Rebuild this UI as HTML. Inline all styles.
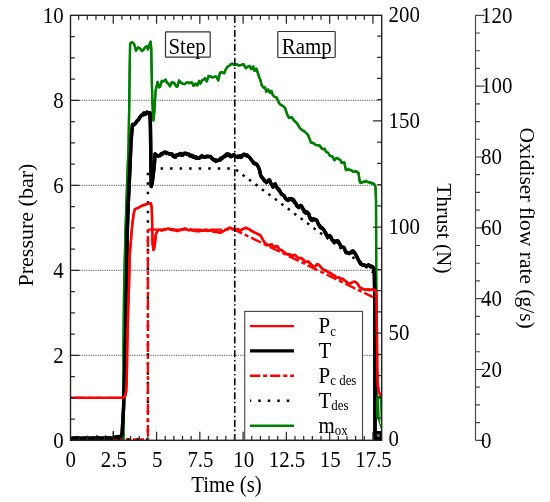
<!DOCTYPE html>
<html><head><meta charset="utf-8"><title>Pressure, thrust and oxidiser flow rate vs time</title>
<style>html,body{margin:0;padding:0;background:#fff;width:550px;height:502px;overflow:hidden}svg{display:block}</style>
</head><body>
<svg width="550" height="502" viewBox="0 0 550 502">
<rect width="550" height="502" fill="#fff"/>
<defs><clipPath id="ax"><rect x="70.0" y="15.3" width="311.6" height="425.0"/></clipPath></defs>
<line x1="70.0" y1="355.30" x2="381.6" y2="355.30" stroke="#555" stroke-width="1" stroke-dasharray="1.2 1.1"/>
<line x1="70.0" y1="270.30" x2="381.6" y2="270.30" stroke="#555" stroke-width="1" stroke-dasharray="1.2 1.1"/>
<line x1="70.0" y1="185.30" x2="381.6" y2="185.30" stroke="#555" stroke-width="1" stroke-dasharray="1.2 1.1"/>
<line x1="70.0" y1="100.30" x2="381.6" y2="100.30" stroke="#555" stroke-width="1" stroke-dasharray="1.2 1.1"/>
<g clip-path="url(#ax)" fill="none" stroke-linejoin="round">
<polyline points="70.0,439.5 71.1,439.5 72.2,439.5 73.3,439.5 74.4,439.5 75.6,439.5 76.7,439.5 77.8,439.5 78.9,439.5 80.0,439.5 81.1,439.5 82.2,439.5 83.3,439.5 84.4,439.5 85.5,439.5 86.7,439.5 87.8,439.5 88.9,439.5 90.0,439.5 91.1,439.5 92.2,439.5 93.3,439.5 94.4,439.5 95.5,439.5 96.7,439.5 97.8,439.5 98.9,439.5 100.0,439.5 101.1,439.5 102.2,439.5 103.3,439.5 104.4,439.5 105.5,439.5 106.6,439.5 107.8,439.5 108.9,439.5 110.0,439.5 111.1,439.5 112.2,439.5 113.3,439.5 114.4,439.5 115.5,439.5 116.6,439.5 117.7,439.5 118.9,439.5 120.0,439.5 121.1,439.5 122.2,439.5 123.3,439.5 123.5,439.0 123.5,347.0 124.1,287.0 125.5,230.0 127.5,172.0 128.6,145.0 129.2,105.0 129.6,75.0 130.1,44.0 131.0,42.5 132.0,42.2 134.0,43.9 135.0,47.0 136.0,50.6 138.0,47.5 140.0,48.4 142.0,51.0 143.0,50.2 145.0,47.5 147.0,46.1 148.0,49.3 149.0,46.6 150.5,41.6 151.2,48.0 151.7,75.0 152.3,100.0 153.3,120.5 154.3,112.0 155.0,100.0 155.7,90.0 156.4,87.3 157.7,81.8 159.1,87.3 160.0,86.8 161.8,80.9 163.6,81.4 165.5,79.5 166.8,82.3 167.9,83.3 169.1,84.5 170.0,86.4 171.8,82.3 172.9,83.0 174.1,82.7 175.2,84.8 176.4,86.4 177.3,86.8 179.1,80.5 180.9,82.7 182.7,83.6 184.5,84.1 186.4,82.7 187.8,82.7 189.1,83.2 190.4,82.9 191.8,82.3 193.6,85.9 195.5,83.6 197.3,85.5 199.1,80.9 200.5,83.6 202.3,80.0 203.7,79.6 205.0,78.2 206.8,81.4 208.6,75.9 209.8,76.6 210.9,76.4 212.1,76.9 213.2,77.3 214.6,77.0 215.9,76.4 217.1,77.8 218.2,80.5 220.0,72.7 221.2,72.1 222.3,72.3 224.1,73.2 225.9,69.1 227.7,66.4 228.8,66.1 230.0,65.0 231.2,64.2 232.3,63.6 234.1,65.0 235.9,64.5 237.2,64.5 238.6,65.5 240.0,65.3 241.4,65.0 243.6,64.1 244.8,66.4 245.9,68.2 247.7,66.8 249.5,65.9 251.4,69.1 253.2,66.4 254.5,70.9 256.4,68.6 257.7,72.7 259.1,76.8 260.5,80.5 261.8,85.5 263.6,87.7 265.0,87.3 266.4,91.8 268.2,89.5 270.0,92.7 271.4,90.9 272.7,95.0 274.5,96.8 276.4,97.3 277.7,100.0 279.0,103.1 280.5,104.5 282.0,105.5 283.5,106.5 285.0,107.9 287.0,113.9 289.0,118.0 290.5,117.7 292.0,117.5 294.0,120.5 295.5,122.0 297.0,123.5 298.5,126.2 300.0,128.2 301.5,129.4 303.0,130.6 304.5,131.7 306.0,133.0 308.0,134.8 309.5,138.7 311.0,142.6 312.3,142.5 313.7,143.2 315.0,144.4 316.5,145.2 318.0,145.4 319.6,145.4 321.0,148.0 322.4,149.2 323.5,149.1 324.6,148.7 326.2,152.0 327.9,152.5 330.0,155.8 332.2,156.4 334.4,160.2 335.5,159.0 336.6,158.0 338.0,158.3 339.4,159.6 340.5,160.2 341.5,162.9 342.9,162.7 344.3,162.4 345.9,170.0 347.0,170.2 348.1,169.0 349.5,169.9 350.9,170.0 353.0,171.7 354.4,171.5 355.8,171.1 357.1,172.5 358.5,172.8 359.6,181.0 360.2,182.6 361.5,182.0 362.9,182.1 364.0,181.8 365.1,182.0 366.2,181.0 367.3,181.6 368.4,182.0 369.5,182.6 370.6,182.5 371.7,183.1 372.8,183.2 374.4,184.3 375.5,187.6 376.0,200.0 376.3,300.0 376.6,397.0" stroke="#008000" stroke-width="2.3"/>
<polyline points="70.0,439.5 71.1,439.5 72.2,439.5 73.3,439.5 74.4,439.5 75.6,439.5 76.7,439.5 77.8,439.5 78.9,439.5 80.0,439.5 81.1,439.5 82.2,439.5 83.3,439.5 84.4,439.5 85.5,439.5 86.7,439.5 87.8,439.5 88.9,439.5 90.0,439.5 91.1,439.5 92.2,439.5 93.3,439.5 94.4,439.5 95.5,439.5 96.7,439.5 97.8,439.5 98.9,439.5 100.0,439.5 101.1,439.5 102.2,439.5 103.3,439.5 104.4,439.5 105.5,439.5 106.6,439.5 107.8,439.5 108.9,439.5 110.0,439.5 111.1,439.5 112.2,439.5 113.3,439.5 114.4,439.5 115.5,439.5 116.6,439.5 117.7,439.5 118.9,439.5 120.0,439.5 121.1,439.5 122.2,439.5 123.3,439.5 123.5,439.0 123.5,347.0 124.1,287.0 125.5,230.0 127.5,172.0 128.6,145.0 129.2,105.0 129.6,75.0 130.1,44.0 131.0,42.5 132.0,42.2 134.0,43.9 135.0,47.0 136.0,50.6 138.0,47.5 140.0,48.4 142.0,51.0 143.0,50.2 145.0,47.5 147.0,46.1 148.0,49.3 149.0,46.6 150.5,41.6 151.2,48.0 151.7,75.0 152.3,100.0 153.3,120.5 154.3,112.0 155.0,100.0 155.7,90.0 156.4,87.3 157.7,81.8 159.1,87.3 160.0,86.8 161.8,80.9 163.6,81.4 165.5,79.5 166.8,82.3 167.9,83.2 169.1,84.5 170.0,86.4 171.8,82.3 172.9,83.1 174.1,82.7 175.2,85.0 176.4,86.4 177.3,86.8 179.1,80.5 180.9,82.7 182.7,83.6 184.5,84.1 186.4,82.7 187.8,82.3 189.1,83.2 190.4,82.3 191.8,82.3 193.6,85.9 195.5,83.6 197.3,85.5 199.1,80.9 200.5,83.6 202.3,80.0 203.7,79.7 205.0,78.2 206.8,81.4 208.6,75.9 209.8,76.1 210.9,76.4 212.1,77.5 213.2,77.3 214.6,76.7 215.9,76.4 217.1,77.9 218.2,80.5 220.0,72.7 221.2,72.7 222.3,72.3 224.1,73.2 225.9,69.1 227.7,66.4 228.8,66.1 230.0,65.0 231.2,64.0 232.3,63.6 234.1,65.0 235.9,64.5 237.2,64.4 238.6,65.5 240.0,65.0 241.4,65.0 243.6,64.1 244.8,66.8 245.9,68.2 247.7,66.8 249.5,65.9 251.4,69.1 253.2,66.4 254.5,70.9 256.4,68.6 257.7,72.7 259.1,76.8 260.5,80.5 261.8,85.5 263.6,87.7 265.0,87.3 266.4,91.8 268.2,89.5 270.0,92.7 271.4,90.9 272.7,95.0 274.5,96.8 276.4,97.3 277.7,100.0 279.0,103.1 280.5,104.7 282.0,105.5 283.5,106.2 285.0,107.9 287.0,113.9 289.0,118.0 290.5,117.4 292.0,117.5 294.0,120.5 295.5,121.4 297.0,123.5 298.5,125.2 300.0,128.2 301.5,129.8 303.0,130.6 304.5,131.3 306.0,133.0 308.0,134.8 309.5,138.8 311.0,142.6 312.3,143.1 313.7,143.4 315.0,144.4 316.5,145.2 318.0,145.4 319.6,145.4 321.0,146.8 322.4,149.2 323.5,149.2 324.6,148.7 326.2,152.0 327.9,152.5 330.0,155.8 332.2,156.4 334.4,160.2 335.5,158.6 336.6,158.0 338.0,158.7 339.4,159.6 340.5,160.2 341.5,162.9 342.9,162.2 344.3,162.4 345.9,170.0 347.0,169.2 348.1,169.0 349.5,170.2 350.9,170.0 353.0,171.7 354.4,171.8 355.8,171.1 357.1,171.7 358.5,172.8 359.6,181.0 360.2,182.6 361.5,182.9 362.9,182.1 364.0,181.3 365.1,181.2 366.2,181.0 367.3,182.0 368.4,182.3 369.5,182.6 370.6,182.2 371.7,183.7 372.8,183.2 374.4,184.3 375.5,187.6 376.0,200.0 376.3,300.0 376.6,397.0" stroke="#008000" stroke-width="2.3"/>
<line x1="147.90" y1="440" x2="147.90" y2="168.6" stroke="#000" stroke-width="2.5" fill="none" stroke-dasharray="2.5 7" stroke-dashoffset="1.25"/>
<line x1="147.90" y1="168.6" x2="234.46" y2="168.6" stroke="#000" stroke-width="2.5" fill="none" stroke-dasharray="2.5 7.03" stroke-dashoffset="6.41"/>
<line x1="234.46" y1="168.6" x2="372.94" y2="272.33" stroke="#000" stroke-width="2.5" fill="none" stroke-dasharray="2.5 5.57" stroke-dashoffset="6.00"/>
<line x1="70" y1="439.4" x2="147.90" y2="439.4" stroke="#f00" stroke-width="2.4" fill="none" stroke-dasharray="11 3 4 3"/>
<line x1="70" y1="439.4" x2="147.90" y2="439.4" stroke="#000" stroke-width="2.5" fill="none" stroke-dasharray="2.5 7"/>
<polyline points="70.0,438.3 71.0,438.6 72.0,438.6 73.0,437.9 74.0,438.0 75.0,438.5 76.0,438.4 77.0,438.2 77.8,437.6 78.6,438.2 79.5,438.3 80.5,438.1 81.4,438.3 82.3,438.3 83.3,438.3 84.2,438.0 85.1,438.2 86.1,438.1 87.0,438.2 88.2,438.2 89.1,438.4 90.0,438.5 91.0,438.5 91.9,438.2 92.8,438.2 93.7,438.0 94.7,437.9 95.6,437.9 96.5,438.2 97.0,437.3 97.5,438.2 98.4,438.2 99.4,438.1 100.3,438.1 101.2,438.5 102.2,438.2 103.1,438.2 104.1,438.0 105.0,438.2 105.6,437.4 106.2,438.2 107.2,437.9 108.1,438.1 109.1,437.9 110.1,438.2 111.1,438.5 112.0,438.3 113.0,438.2 113.6,437.8 114.8,437.2 116.0,437.0 117.1,437.2 118.2,437.0 119.2,436.9 120.3,436.6 121.6,436.2 122.2,432.0 123.6,407.0 124.5,377.0 125.4,347.0 126.5,287.0 127.1,237.0 128.2,205.0 129.8,172.0 131.0,142.0 131.8,132.0 132.5,124.5 133.8,125.0 135.0,123.7 136.0,123.0 137.0,121.0 138.0,120.7 139.0,119.0 140.0,117.0 141.0,115.7 142.0,115.0 143.0,115.1 144.0,113.0 145.0,114.5 146.0,113.8 147.0,112.4 148.0,112.6 149.0,113.8 150.0,112.8 150.4,125.0 151.2,186.6 152.3,182.0 153.8,170.0 154.5,162.9 155.0,153.9 156.5,155.1 157.8,156.0 159.0,155.7 160.0,155.3 161.0,154.0 162.0,153.4 163.0,153.1 164.0,152.6 165.0,152.2 166.2,153.6 167.4,153.2 168.6,153.4 169.7,154.3 170.9,153.8 171.8,154.1 172.7,156.0 173.6,156.7 174.5,156.4 175.4,157.2 176.4,155.1 177.6,154.8 178.7,155.2 179.9,153.8 180.9,155.0 181.9,155.2 182.9,154.5 183.9,153.3 184.9,153.4 185.9,153.3 186.8,154.5 187.8,154.3 188.8,153.9 189.8,156.0 190.8,155.0 191.8,155.9 192.9,157.3 193.9,156.4 195.0,157.2 196.0,158.5 197.0,157.7 198.2,158.3 199.5,158.1 201.0,156.4 202.0,156.7 203.0,156.9 204.0,157.1 205.0,157.2 206.0,157.1 207.0,156.3 208.2,156.5 209.4,156.4 210.7,157.1 212.0,158.7 212.9,158.8 213.9,160.2 214.9,160.4 215.9,161.5 216.9,160.7 218.2,160.6 219.4,159.9 220.7,158.0 221.9,158.2 222.9,158.0 223.9,156.3 224.9,156.1 225.9,154.8 226.9,155.5 227.9,154.4 228.9,154.0 229.9,154.9 230.9,156.6 231.9,156.6 232.8,155.4 233.8,154.6 234.8,155.9 235.8,156.6 236.8,156.7 237.8,156.0 238.8,156.4 239.8,156.3 240.8,157.4 241.8,157.1 242.8,155.0 244.1,154.3 245.8,155.4 246.9,154.8 248.0,155.9 249.7,157.6 251.0,159.5 252.3,161.2 253.6,163.3 254.9,163.8 256.0,164.1 257.0,164.9 258.1,166.4 259.4,169.6 260.7,175.4 261.7,177.6 262.7,178.0 264.0,179.5 265.3,181.3 266.2,182.1 267.2,181.9 268.4,179.9 269.5,180.0 271.1,183.9 272.1,185.2 273.0,187.1 274.1,184.7 275.2,183.9 276.4,186.5 277.6,188.4 278.9,189.0 280.2,191.6 281.4,194.3 282.7,194.9 284.0,195.4 285.3,198.1 286.6,199.8 288.0,200.5 289.0,198.6 290.0,199.0 291.0,198.6 292.0,200.1 293.0,199.5 294.2,200.5 295.5,203.0 296.5,204.0 297.5,206.5 299.0,207.5 300.0,206.9 301.0,205.5 302.0,207.0 303.0,209.0 304.0,209.6 305.0,212.4 305.9,213.3 306.9,211.9 308.4,213.4 309.9,217.9 311.1,218.3 312.4,220.4 313.6,218.8 314.9,219.4 315.9,219.5 316.9,220.4 317.9,222.9 318.9,224.9 319.9,227.0 320.9,227.9 321.9,227.5 322.9,228.9 323.9,230.0 324.9,231.9 325.9,232.8 326.8,235.8 327.8,235.7 328.8,235.8 329.8,236.9 330.8,236.8 332.0,239.8 332.9,240.8 333.8,240.7 334.7,242.1 335.6,241.6 336.8,241.9 338.0,241.0 338.9,243.3 339.8,244.0 340.7,245.9 341.6,246.9 342.8,247.1 344.0,247.5 344.9,249.9 346.0,252.6 347.1,252.1 348.1,252.9 349.3,253.1 350.5,252.6 351.6,251.4 352.6,251.1 353.6,251.1 354.7,252.9 355.6,254.3 356.5,255.9 357.4,258.6 358.3,259.5 359.5,261.9 360.4,262.3 361.4,264.4 362.6,264.8 363.9,264.9 365.1,265.2 366.4,265.9 367.4,265.8 368.4,264.7 369.4,265.4 370.6,266.9 371.8,266.3 373.3,267.8 374.3,272.0 374.8,300.0 375.0,438.0" stroke="#000" stroke-width="3.4"/>
<polyline points="70.0,438.3 71.0,438.3 72.0,438.4 73.0,438.4 74.0,438.0 75.0,437.9 76.0,438.1 77.0,438.2 77.8,437.6 78.6,438.2 79.5,438.0 80.5,438.4 81.4,438.3 82.3,438.3 83.3,438.2 84.2,438.3 85.1,438.0 86.1,438.2 87.0,438.2 88.2,438.2 89.1,438.0 90.0,438.5 91.0,437.9 91.9,438.4 92.8,437.9 93.7,438.3 94.7,438.1 95.6,438.1 96.5,438.2 97.0,437.3 97.5,438.2 98.4,438.4 99.4,437.9 100.3,437.9 101.2,438.5 102.2,438.2 103.1,437.9 104.1,438.5 105.0,438.2 105.6,437.4 106.2,438.2 107.2,438.5 108.1,437.9 109.1,438.1 110.1,437.9 111.1,438.1 112.0,438.3 113.0,438.2 113.6,437.8 114.8,437.2 116.0,437.0 117.1,437.0 118.2,436.5 119.2,436.5 120.3,436.6 121.6,436.2 122.2,432.0 123.6,407.0 124.5,377.0 125.4,347.0 126.5,287.0 127.1,237.0 128.2,205.0 129.8,172.0 131.0,142.0 131.8,132.0 132.5,124.5 133.8,124.8 135.0,123.7 136.0,122.1 137.0,121.0 138.0,119.8 139.0,119.0 140.0,117.0 141.0,116.2 142.0,115.0 143.0,113.9 144.0,113.0 145.0,113.1 146.0,113.8 147.0,112.1 148.0,112.6 149.0,113.8 150.0,112.8 150.4,125.0 151.2,186.6 152.3,182.0 153.8,170.0 154.5,162.9 155.0,153.9 156.5,155.1 157.8,155.9 159.0,155.7 160.0,155.9 161.0,154.0 162.0,154.6 163.0,153.4 164.0,152.3 165.0,152.2 166.2,152.3 167.4,153.2 168.6,153.8 169.7,154.0 170.9,153.8 171.8,153.6 172.7,154.5 173.6,155.5 174.5,156.5 175.4,157.2 176.4,155.1 177.6,155.4 178.7,154.2 179.9,153.8 180.9,153.4 181.9,155.2 182.9,155.3 183.9,153.8 184.9,153.4 185.9,153.7 186.8,153.4 187.8,154.3 188.8,154.5 189.8,154.9 190.8,156.1 191.8,155.9 192.9,155.4 193.9,156.9 195.0,157.2 196.0,156.7 197.0,157.7 198.2,158.3 199.5,158.1 201.0,156.4 202.0,155.6 203.0,156.9 204.0,156.6 205.0,157.2 206.0,156.4 207.0,156.3 208.2,156.7 209.4,156.4 210.7,156.5 212.0,158.7 212.9,159.3 213.9,160.2 214.9,159.7 215.9,160.0 216.9,160.7 218.2,160.2 219.4,159.9 220.7,160.1 221.9,158.2 222.9,157.2 223.9,156.3 224.9,156.6 225.9,154.8 226.9,153.8 227.9,154.4 228.9,155.7 229.9,154.9 230.9,156.6 231.9,155.7 232.8,155.4 233.8,154.9 234.8,155.9 235.8,156.8 236.8,156.7 237.8,157.5 238.8,156.4 239.8,155.8 240.8,157.4 241.8,155.7 242.8,155.0 244.1,154.3 245.8,155.4 246.9,156.3 248.0,155.9 249.7,157.6 251.0,159.1 252.3,161.2 253.6,161.9 254.9,163.8 256.0,163.5 257.0,164.5 258.1,166.4 259.4,169.6 260.7,175.4 261.7,177.0 262.7,178.0 264.0,180.8 265.3,181.3 266.2,182.7 267.2,181.9 268.4,181.0 269.5,180.0 271.1,183.9 272.1,184.4 273.0,187.1 274.1,185.1 275.2,183.9 276.4,186.8 277.6,188.4 278.9,190.8 280.2,191.6 281.4,193.6 282.7,194.9 284.0,195.9 285.3,198.1 286.6,199.4 288.0,200.5 289.0,199.7 290.0,199.0 291.0,199.5 292.0,198.8 293.0,199.5 294.2,202.3 295.5,203.0 296.5,205.7 297.5,206.5 299.0,207.5 300.0,205.7 301.0,205.5 302.0,206.8 303.0,209.0 304.0,211.6 305.0,212.4 305.9,211.6 306.9,211.9 308.4,213.4 309.9,217.9 311.1,220.2 312.4,220.4 313.6,219.9 314.9,219.4 315.9,220.4 316.9,220.4 317.9,223.1 318.9,224.9 319.9,225.7 320.9,227.9 321.9,227.9 322.9,228.9 323.9,229.8 324.9,231.9 325.9,234.3 326.8,235.8 327.8,236.2 328.8,235.8 329.8,235.5 330.8,236.8 332.0,239.8 332.9,241.1 333.8,240.7 334.7,241.0 335.6,241.6 336.8,240.7 338.0,241.0 338.9,242.4 339.8,244.0 340.7,246.6 341.6,246.9 342.8,247.3 344.0,247.5 344.9,249.9 346.0,252.6 347.1,253.0 348.1,252.9 349.3,253.7 350.5,252.6 351.6,252.9 352.6,251.1 353.6,252.6 354.7,252.9 355.6,254.2 356.5,255.9 357.4,257.9 358.3,259.5 359.5,261.9 360.4,264.1 361.4,264.4 362.6,265.3 363.9,264.9 365.1,265.6 366.4,265.9 367.4,265.4 368.4,265.3 369.4,265.4 370.6,266.4 371.8,266.3 373.3,267.8 374.3,272.0 374.8,300.0 375.0,438.0" stroke="#000" stroke-width="3.4"/>
<line x1="147.90" y1="440" x2="147.90" y2="229.6" stroke="#f00" stroke-width="2.4" fill="none" stroke-dasharray="11 3 4 3" stroke-dashoffset="17"/>
<polyline points="147.90,229.6 234.46,229.6 372.94,297.18" stroke="#f00" stroke-width="2.4" fill="none" stroke-dasharray="11 3 4 3"/>
<polygon points="376.2,396 381.6,396 381.6,412 380.8,430 379.2,424 377.5,419 376.2,418" fill="#008000" stroke="none"/>
<polyline points="379.3,399 380,414 380.6,424" stroke="#fff" stroke-width="0.8" fill="none"/>
<rect x="373.3" y="431" width="8.3" height="9.3" fill="#000"/>
<rect x="376.8" y="434" width="3" height="3" fill="#666"/>
<polyline points="70.0,397.8 71.1,397.7 72.2,397.8 73.3,397.8 74.4,397.8 75.5,397.8 76.6,397.7 77.7,397.7 78.8,397.9 79.9,397.7 81.0,397.7 82.1,397.9 83.2,397.8 84.4,397.9 85.5,397.8 86.6,397.8 87.7,397.7 88.8,397.8 89.9,397.9 91.0,397.8 92.1,397.9 93.2,397.9 94.3,397.7 95.4,397.9 96.5,397.8 97.6,397.7 98.7,397.7 99.8,397.9 100.9,397.8 102.0,397.9 103.1,397.9 104.2,397.9 105.3,397.9 106.4,397.8 107.5,397.9 108.6,397.8 109.8,397.9 110.9,397.9 112.0,397.7 113.1,397.7 114.2,397.7 115.3,397.9 116.4,397.8 117.5,397.8 118.6,397.7 119.7,397.8 120.8,397.8 121.9,397.8 123.0,397.8 124.3,397.3 125.3,395.5 126.2,391.0 126.8,380.0 127.2,350.0 128.2,310.0 129.0,287.0 129.8,255.0 130.8,242.0 131.9,227.8 133.5,215.0 134.7,209.5 136.5,208.4 138.2,207.9 139.4,207.3 140.6,206.4 141.8,206.0 143.0,205.3 144.4,205.3 145.9,204.2 147.8,203.9 149.2,203.8 150.7,203.1 151.5,206.0 151.9,212.0 152.6,243.7 153.4,250.1 154.2,248.0 155.0,243.7 155.8,234.2 157.4,231.0 158.8,229.9 160.6,229.7 160.9,230.3 162.1,230.6 163.3,230.2 164.5,230.1 165.7,229.1 167.1,229.3 168.6,228.6 170.0,229.1 171.1,229.8 172.2,230.2 173.4,230.3 174.5,230.0 175.7,230.4 177.0,230.9 178.2,230.9 179.4,229.9 180.6,230.2 181.8,229.1 183.0,229.2 184.1,228.8 185.2,228.5 186.4,229.1 187.8,229.9 189.1,230.3 190.5,229.3 191.8,230.2 192.9,230.8 194.0,230.4 195.1,230.1 196.2,230.5 197.3,230.9 198.4,231.2 199.6,231.2 200.7,230.0 201.8,230.5 203.0,230.7 204.1,229.9 205.2,230.8 206.4,230.5 207.5,230.1 208.7,230.8 209.8,230.8 210.9,230.0 212.1,230.6 213.3,231.9 214.5,231.8 215.7,231.7 216.8,231.5 218.0,232.2 219.2,232.6 220.5,232.7 221.7,231.4 222.9,231.1 224.1,230.9 225.4,229.9 226.8,229.1 228.4,228.6 230.0,227.7 231.2,227.9 232.3,229.1 233.7,228.7 235.0,229.5 236.2,230.0 237.4,229.2 238.6,229.5 240.0,230.4 241.4,230.0 243.6,228.6 244.8,228.7 245.9,227.7 247.2,228.2 248.6,229.1 250.0,229.9 251.4,230.9 252.6,231.5 253.8,232.3 255.0,232.7 256.4,233.5 257.7,234.1 259.1,234.9 260.5,235.5 262.3,238.6 264.5,242.5 266.0,243.8 267.5,244.7 269.0,245.3 270.4,245.5 271.8,244.4 273.6,247.1 274.8,246.8 276.1,246.4 277.3,246.2 278.6,248.3 280.0,249.8 281.2,250.1 282.4,250.8 283.6,251.7 284.8,253.3 286.1,253.5 287.3,254.4 288.4,254.7 289.6,254.2 290.7,255.0 291.8,255.3 293.0,255.4 294.3,254.6 295.5,255.3 296.9,256.8 298.2,258.0 299.4,258.4 300.6,257.7 301.8,258.5 303.4,260.3 305.0,261.8 306.2,261.6 307.4,261.8 308.6,261.4 310.0,263.0 311.4,265.0 312.8,266.2 314.1,266.8 315.3,266.2 316.5,264.3 317.7,264.1 319.1,264.8 320.5,266.8 321.9,268.4 323.2,269.5 324.3,270.7 325.4,270.3 326.6,271.2 327.7,271.8 328.9,272.6 330.0,272.9 331.1,273.6 332.3,274.5 333.4,274.9 334.6,275.7 335.7,276.7 336.8,277.3 337.9,277.3 339.1,277.8 340.2,278.7 341.4,278.6 342.6,278.6 343.8,280.0 345.0,280.5 347.2,282.7 348.6,283.4 350.1,283.5 352.3,282.4 353.6,281.7 354.8,281.6 357.0,283.1 359.2,286.4 361.0,288.5 362.4,288.5 363.9,289.3 365.4,289.9 366.8,289.6 368.0,289.4 369.3,289.4 370.5,290.0 371.9,289.7 373.4,289.6 374.8,290.0 375.9,291.8 376.4,294.7 376.7,310.0 377.3,370.0 377.8,385.0 378.6,390.5 379.8,394.2 381.6,396.2" stroke="#f00" stroke-width="2.35"/>
<polyline points="70.0,397.8 71.1,397.7 72.2,397.9 73.3,397.9 74.4,397.9 75.5,397.7 76.6,397.7 77.7,397.7 78.8,397.7 79.9,397.9 81.0,397.7 82.1,397.8 83.2,397.7 84.4,397.7 85.5,397.8 86.6,397.9 87.7,397.8 88.8,397.7 89.9,397.7 91.0,397.7 92.1,397.9 93.2,397.9 94.3,397.9 95.4,397.9 96.5,397.9 97.6,397.9 98.7,397.9 99.8,397.7 100.9,397.9 102.0,397.8 103.1,397.9 104.2,397.8 105.3,397.8 106.4,397.8 107.5,397.8 108.6,397.7 109.8,397.7 110.9,397.9 112.0,397.9 113.1,397.9 114.2,397.9 115.3,397.8 116.4,397.9 117.5,397.7 118.6,397.9 119.7,397.8 120.8,397.7 121.9,397.7 123.0,397.8 124.3,397.3 125.3,395.5 126.2,391.0 126.8,380.0 127.2,350.0 128.2,310.0 129.0,287.0 129.8,255.0 130.8,242.0 131.9,227.8 133.5,215.0 134.7,209.5 136.5,208.4 138.2,207.9 139.4,207.2 140.6,206.4 141.8,205.5 143.0,205.3 144.4,204.7 145.9,204.2 147.8,203.9 149.2,203.6 150.7,203.1 151.5,206.0 151.9,212.0 152.6,243.7 153.4,250.1 154.2,248.0 155.0,243.7 155.8,234.2 157.4,231.0 158.8,229.9 160.6,229.7 160.9,230.3 162.1,229.9 163.3,229.2 164.5,229.4 165.7,229.1 167.1,228.7 168.6,228.7 170.0,229.1 171.1,228.9 172.2,229.4 173.4,229.2 174.5,230.0 175.7,230.5 177.0,231.2 178.2,230.9 179.4,230.1 180.6,230.0 181.8,229.1 183.0,229.7 184.1,228.5 185.2,228.6 186.4,229.1 187.8,229.8 189.1,230.1 190.5,230.1 191.8,230.2 192.9,229.9 194.0,230.4 195.1,231.1 196.2,231.3 197.3,230.9 198.4,231.2 199.6,230.3 200.7,231.1 201.8,230.5 203.0,230.3 204.1,230.8 205.2,230.0 206.4,230.5 207.5,231.0 208.7,230.4 209.8,230.4 210.9,230.0 212.1,230.2 213.3,231.4 214.5,231.8 215.7,232.0 216.8,232.2 218.0,232.2 219.2,232.3 220.5,232.7 221.7,232.4 222.9,231.3 224.1,230.9 225.4,229.7 226.8,229.1 228.4,227.9 230.0,227.7 231.2,228.7 232.3,229.1 233.7,228.8 235.0,229.5 236.2,229.1 237.4,228.9 238.6,229.5 240.0,230.0 241.4,230.0 243.6,228.6 244.8,228.2 245.9,227.7 247.2,228.5 248.6,229.1 250.0,229.4 251.4,230.9 252.6,231.4 253.8,231.9 255.0,232.7 256.4,232.8 257.7,234.1 259.1,234.1 260.5,235.5 262.3,238.6 264.5,242.5 266.0,243.8 267.5,245.2 269.0,245.3 270.4,244.3 271.8,244.4 273.6,247.1 274.8,246.5 276.1,246.2 277.3,246.2 278.6,248.1 280.0,249.8 281.2,249.8 282.4,251.0 283.6,251.7 284.8,252.4 286.1,254.0 287.3,254.4 288.4,253.9 289.6,254.6 290.7,255.1 291.8,255.3 293.0,256.0 294.3,255.3 295.5,255.3 296.9,256.6 298.2,258.0 299.4,258.4 300.6,258.0 301.8,258.5 303.4,259.5 305.0,261.8 306.2,261.7 307.4,262.1 308.6,261.4 310.0,263.5 311.4,265.0 312.8,265.6 314.1,266.8 315.3,266.2 316.5,265.5 317.7,264.1 319.1,265.1 320.5,266.8 321.9,268.3 323.2,269.5 324.3,269.9 325.4,270.3 326.6,270.9 327.7,271.8 328.9,272.1 330.0,272.9 331.1,273.2 332.3,274.5 333.4,275.1 334.6,275.3 335.7,277.0 336.8,277.3 337.9,277.8 339.1,277.3 340.2,278.7 341.4,278.6 342.6,278.8 343.8,279.8 345.0,280.5 347.2,282.7 348.6,283.2 350.1,283.5 352.3,282.4 353.6,281.8 354.8,281.6 357.0,283.1 359.2,286.4 361.0,288.5 362.4,288.6 363.9,289.3 365.4,289.4 366.8,289.6 368.0,289.2 369.3,290.4 370.5,290.0 371.9,289.3 373.4,289.6 374.8,290.0 375.9,291.8 376.4,294.7 376.7,310.0 377.3,370.0 377.8,385.0 378.6,390.5 379.8,394.2 381.6,396.2" stroke="#f00" stroke-width="2.35"/>
<path d="M113.3 438V431M87.6 438V435.4M78 438V436" stroke="#000" stroke-width="1.1"/>
<line x1="234.76" y1="15.3" x2="234.76" y2="440.3" stroke="#000" stroke-width="1.6" stroke-dasharray="7 2.6 1.6 2.73" stroke-dashoffset="13.2"/>
</g>
<rect x="165.5" y="31.8" width="44.7" height="25.4" rx="0.8" fill="#fff" stroke="#333" stroke-width="1.2"/>
<text transform="translate(168.5,54.4) scale(0.95,1.05)" font-family="'Liberation Serif','Times New Roman',serif" font-size="22">Step</text>
<rect x="277.8" y="31.5" width="57.4" height="26" rx="0.8" fill="#fff" stroke="#333" stroke-width="1.2"/>
<text transform="translate(281.8,54.3) scale(0.95,1.05)" font-family="'Liberation Serif','Times New Roman',serif" font-size="22">Ramp</text>
<rect x="244.7" y="311.4" width="117.8" height="129" fill="#fff" stroke="#444" stroke-width="1.1"/>
<line x1="250" y1="326.1" x2="294" y2="326.1" stroke="#f00" stroke-width="2.4"/>
<line x1="250" y1="350.9" x2="294" y2="350.9" stroke="#000" stroke-width="3.3"/>
<line x1="250" y1="375.7" x2="294" y2="375.7" stroke="#f00" stroke-width="2.4" stroke-dasharray="10.2 2.9 4.1 2.9"/>
<line x1="250" y1="400.7" x2="294" y2="400.7" stroke="#000" stroke-width="2.5" stroke-dasharray="2.5 7" stroke-dashoffset="1.25"/>
<line x1="250" y1="425.7" x2="294" y2="425.7" stroke="#008000" stroke-width="2.5"/>
<text transform="translate(318.6,332.9) scale(0.95,1.06)" font-family="'Liberation Serif','Times New Roman',serif" font-size="22">P<tspan font-size="13.6" dy="2.5">c</tspan></text>
<text transform="translate(318.6,357.8) scale(0.95,1.06)" font-family="'Liberation Serif','Times New Roman',serif" font-size="22">T</text>
<text transform="translate(318.6,382.7) scale(0.95,1.06)" font-family="'Liberation Serif','Times New Roman',serif" font-size="22">P<tspan font-size="13.6" dy="2.5">c des</tspan></text>
<text transform="translate(318.6,407.6) scale(0.95,1.06)" font-family="'Liberation Serif','Times New Roman',serif" font-size="22">T<tspan font-size="13.6" dy="2.5">des</tspan></text>
<text transform="translate(318.6,432.5) scale(0.95,1.06)" font-family="'Liberation Serif','Times New Roman',serif" font-size="22">m<tspan font-size="13.6" dy="2.5">ox</tspan></text>
<rect x="70.5" y="15.3" width="311.2" height="425.0" fill="none" stroke="#222" stroke-width="1.4"/>
<path d="M78.66 440.3v-4.4M78.66 15.3v4.4M87.31 440.3v-4.4M87.31 15.3v4.4M95.97 440.3v-4.4M95.97 15.3v4.4M104.62 440.3v-4.4M104.62 15.3v4.4M113.28 440.3v-8.5M113.28 15.3v8.5M121.93 440.3v-4.4M121.93 15.3v4.4M130.59 440.3v-4.4M130.59 15.3v4.4M139.24 440.3v-4.4M139.24 15.3v4.4M147.90 440.3v-4.4M147.90 15.3v4.4M156.56 440.3v-8.5M156.56 15.3v8.5M165.21 440.3v-4.4M165.21 15.3v4.4M173.87 440.3v-4.4M173.87 15.3v4.4M182.52 440.3v-4.4M182.52 15.3v4.4M191.18 440.3v-4.4M191.18 15.3v4.4M199.83 440.3v-8.5M199.83 15.3v8.5M208.49 440.3v-4.4M208.49 15.3v4.4M217.14 440.3v-4.4M217.14 15.3v4.4M225.80 440.3v-4.4M225.80 15.3v4.4M234.46 440.3v-4.4M234.46 15.3v4.4M243.11 440.3v-8.5M243.11 15.3v8.5M251.77 440.3v-4.4M251.77 15.3v4.4M260.42 440.3v-4.4M260.42 15.3v4.4M269.08 440.3v-4.4M269.08 15.3v4.4M277.73 440.3v-4.4M277.73 15.3v4.4M286.39 440.3v-8.5M286.39 15.3v8.5M295.04 440.3v-4.4M295.04 15.3v4.4M303.70 440.3v-4.4M303.70 15.3v4.4M312.36 440.3v-4.4M312.36 15.3v4.4M321.01 440.3v-4.4M321.01 15.3v4.4M329.67 440.3v-8.5M329.67 15.3v8.5M338.32 440.3v-4.4M338.32 15.3v4.4M346.98 440.3v-4.4M346.98 15.3v4.4M355.63 440.3v-4.4M355.63 15.3v4.4M364.29 440.3v-4.4M364.29 15.3v4.4M372.94 440.3v-8.5M372.94 15.3v8.5M70.5 419.05h4.4M70.5 397.80h4.4M70.5 376.55h4.4M70.5 355.30h9M70.5 334.05h4.4M70.5 312.80h4.4M70.5 291.55h4.4M70.5 270.30h9M70.5 249.05h4.4M70.5 227.80h4.4M70.5 206.55h4.4M70.5 185.30h9M70.5 164.05h4.4M70.5 142.80h4.4M70.5 121.55h4.4M70.5 100.30h9M70.5 79.05h4.4M70.5 57.80h4.4M70.5 36.55h4.4M381.6 418.07h-4.4M381.6 396.85h-4.4M381.6 375.62h-4.4M381.6 354.40h-4.4M381.6 333.18h-8.5M381.6 311.95h-4.4M381.6 290.73h-4.4M381.6 269.50h-4.4M381.6 248.28h-4.4M381.6 227.05h-8.5M381.6 205.83h-4.4M381.6 184.60h-4.4M381.6 163.38h-4.4M381.6 142.15h-4.4M381.6 120.93h-8.5M381.6 99.70h-4.4M381.6 78.48h-4.4M381.6 57.25h-4.4M381.6 36.03h-4.4" stroke="#2a2a2a" stroke-width="1.25" fill="none"/>
<path d="M475.5 15.3V440.3M475.5 440.30h9M475.5 422.59h4.4M475.5 404.88h4.4M475.5 387.18h4.4M475.5 369.47h9M475.5 351.76h4.4M475.5 334.05h4.4M475.5 316.34h4.4M475.5 298.63h9M475.5 280.93h4.4M475.5 263.22h4.4M475.5 245.51h4.4M475.5 227.80h9M475.5 210.09h4.4M475.5 192.38h4.4M475.5 174.68h4.4M475.5 156.97h9M475.5 139.26h4.4M475.5 121.55h4.4M475.5 103.84h4.4M475.5 86.13h9M475.5 68.43h4.4M475.5 50.72h4.4M475.5 33.01h4.4M475.5 15.30h9" stroke="#444" stroke-width="1.15" fill="none"/>
<text transform="translate(63.60,447.60) scale(0.95,1.08)" font-family="'Liberation Serif','Times New Roman',serif" font-size="22" text-anchor="end">0</text>
<text transform="translate(63.60,362.60) scale(0.95,1.08)" font-family="'Liberation Serif','Times New Roman',serif" font-size="22" text-anchor="end">2</text>
<text transform="translate(63.60,277.60) scale(0.95,1.08)" font-family="'Liberation Serif','Times New Roman',serif" font-size="22" text-anchor="end">4</text>
<text transform="translate(63.60,192.60) scale(0.95,1.08)" font-family="'Liberation Serif','Times New Roman',serif" font-size="22" text-anchor="end">6</text>
<text transform="translate(63.60,107.60) scale(0.95,1.08)" font-family="'Liberation Serif','Times New Roman',serif" font-size="22" text-anchor="end">8</text>
<text transform="translate(63.60,22.60) scale(0.95,1.08)" font-family="'Liberation Serif','Times New Roman',serif" font-size="22" text-anchor="end">10</text>
<text transform="translate(70.60,466.60) scale(0.95,1.08)" font-family="'Liberation Serif','Times New Roman',serif" font-size="22" text-anchor="middle">0</text>
<text transform="translate(113.88,466.60) scale(0.95,1.08)" font-family="'Liberation Serif','Times New Roman',serif" font-size="22" text-anchor="middle">2.5</text>
<text transform="translate(157.16,466.60) scale(0.95,1.08)" font-family="'Liberation Serif','Times New Roman',serif" font-size="22" text-anchor="middle">5</text>
<text transform="translate(200.43,466.60) scale(0.95,1.08)" font-family="'Liberation Serif','Times New Roman',serif" font-size="22" text-anchor="middle">7.5</text>
<text transform="translate(243.71,466.60) scale(0.95,1.08)" font-family="'Liberation Serif','Times New Roman',serif" font-size="22" text-anchor="middle">10</text>
<text transform="translate(286.99,466.60) scale(0.95,1.08)" font-family="'Liberation Serif','Times New Roman',serif" font-size="22" text-anchor="middle">12.5</text>
<text transform="translate(330.27,466.60) scale(0.95,1.08)" font-family="'Liberation Serif','Times New Roman',serif" font-size="22" text-anchor="middle">15</text>
<text transform="translate(373.54,466.60) scale(0.95,1.08)" font-family="'Liberation Serif','Times New Roman',serif" font-size="22" text-anchor="middle">17.5</text>
<text transform="translate(388.50,446.30) scale(0.95,1.08)" font-family="'Liberation Serif','Times New Roman',serif" font-size="22" text-anchor="start">0</text>
<text transform="translate(388.50,340.18) scale(0.95,1.08)" font-family="'Liberation Serif','Times New Roman',serif" font-size="22" text-anchor="start">50</text>
<text transform="translate(388.50,234.05) scale(0.95,1.08)" font-family="'Liberation Serif','Times New Roman',serif" font-size="22" text-anchor="start">100</text>
<text transform="translate(388.50,127.93) scale(0.95,1.08)" font-family="'Liberation Serif','Times New Roman',serif" font-size="22" text-anchor="start">150</text>
<text transform="translate(388.50,21.80) scale(0.95,1.08)" font-family="'Liberation Serif','Times New Roman',serif" font-size="22" text-anchor="start">200</text>
<text transform="translate(481.00,447.60) scale(0.95,1.08)" font-family="'Liberation Serif','Times New Roman',serif" font-size="22" text-anchor="start">0</text>
<text transform="translate(481.00,376.77) scale(0.95,1.08)" font-family="'Liberation Serif','Times New Roman',serif" font-size="22" text-anchor="start">20</text>
<text transform="translate(481.00,305.93) scale(0.95,1.08)" font-family="'Liberation Serif','Times New Roman',serif" font-size="22" text-anchor="start">40</text>
<text transform="translate(481.00,235.10) scale(0.95,1.08)" font-family="'Liberation Serif','Times New Roman',serif" font-size="22" text-anchor="start">60</text>
<text transform="translate(481.00,164.27) scale(0.95,1.08)" font-family="'Liberation Serif','Times New Roman',serif" font-size="22" text-anchor="start">80</text>
<text transform="translate(481.00,93.43) scale(0.95,1.08)" font-family="'Liberation Serif','Times New Roman',serif" font-size="22" text-anchor="start">100</text>
<text transform="translate(481.00,22.60) scale(0.95,1.08)" font-family="'Liberation Serif','Times New Roman',serif" font-size="22" text-anchor="start">120</text>
<text transform="translate(33.3,225.1) rotate(-90)" font-family="'Liberation Serif','Times New Roman',serif" font-size="22" text-anchor="middle">Pressure (bar)</text>
<text transform="translate(226.5,491.6) scale(0.95,1.04)" font-family="'Liberation Serif','Times New Roman',serif" font-size="22" text-anchor="middle">Time (s)</text>
<text transform="translate(436.9,228.4) rotate(90) scale(0.965,1)" font-family="'Liberation Serif','Times New Roman',serif" font-size="22" text-anchor="middle">Thrust (N)</text>
<text transform="translate(519.6,228.1) rotate(90) scale(0.978,1)" font-family="'Liberation Serif','Times New Roman',serif" font-size="22" text-anchor="middle">Oxidiser flow rate (g/s)</text>
</svg>
</body></html>
